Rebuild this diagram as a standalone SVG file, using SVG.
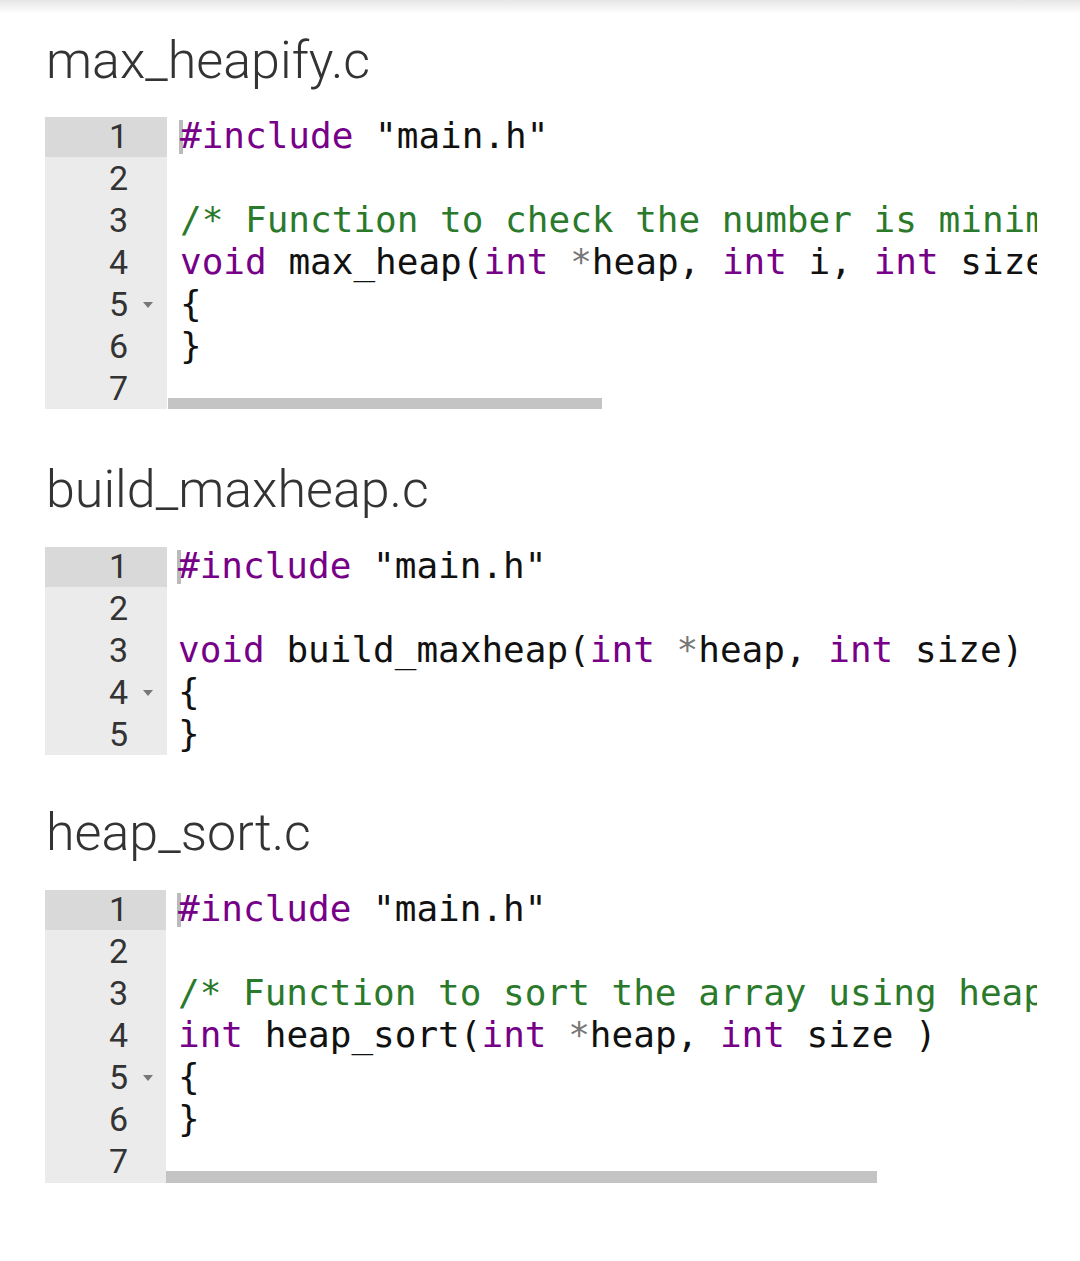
<svg xmlns="http://www.w3.org/2000/svg" width="1080" height="1261" viewBox="0 0 1080 1261">
<defs>
<linearGradient id="sh" x1="0" y1="0" x2="0" y2="1"><stop offset="0" stop-color="#e6e6e6"/><stop offset="1" stop-color="#fff"/></linearGradient>
<clipPath id="c1"><rect x="168" y="117" width="869" height="292"/></clipPath>
<clipPath id="c3"><rect x="166" y="890" width="871" height="293"/></clipPath>
<style>
.t{font-family:Roboto,"Liberation Sans",sans-serif;font-size:52px;font-weight:300;fill:#333}
.g{fill:#ebebeb}.ga{fill:#d9d9d9}
.n{font-family:Roboto,"Liberation Sans",sans-serif;font-size:34px;fill:#333;text-anchor:end}
.c{font-family:"DejaVu Sans Mono",monospace;font-size:36px;fill:#111;white-space:pre}
.k{fill:#770088}.m{fill:#2b7a2b}.o{fill:#777}
.sb{fill:#c4c4c4}.f{fill:#777}
</style>
</defs>
<rect width="1080" height="1261" fill="#fff"/>
<rect width="1080" height="14" fill="url(#sh)"/>

<g id="file1">
<text class="t" x="46" y="78">max_heapify.c</text>
<rect class="g" x="45" y="117" width="122" height="292"/>
<rect class="ga" x="45" y="117" width="122" height="40"/>
<g class="n"><text x="128" y="148">1</text><text x="128" y="190">2</text><text x="128" y="232">3</text><text x="128" y="274">4</text><text x="128" y="316">5</text><text x="128" y="358">6</text><text x="128" y="400">7</text></g>
<path class="f" d="M143 302h10l-5 6z"/>
<rect x="179" y="120" width="4" height="34" fill="#bbb"/>
<g clip-path="url(#c1)" class="c">
<text x="180" y="148"><tspan class="k">#include</tspan> "main.h"</text>
<text x="180" y="232" class="m">/* Function to check the number is minim</text>
<text x="180" y="274"><tspan class="k">void</tspan> max_heap(<tspan class="k">int</tspan> <tspan class="o">*</tspan>heap, <tspan class="k">int</tspan> i, <tspan class="k">int</tspan> size</text>
<text x="180" y="316">{</text>
<text x="180" y="358">}</text>
</g>
<rect class="sb" x="168" y="398" width="434" height="11"/>
</g>

<g id="file2">
<text class="t" x="46" y="507">build_maxheap.c</text>
<rect class="g" x="45" y="547" width="122" height="208"/>
<rect class="ga" x="45" y="547" width="122" height="40"/>
<g class="n"><text x="128" y="578">1</text><text x="128" y="620">2</text><text x="128" y="662">3</text><text x="128" y="704">4</text><text x="128" y="746">5</text></g>
<path class="f" d="M143 690h10l-5 6z"/>
<rect x="177" y="550" width="4" height="34" fill="#bbb"/>
<g class="c">
<text x="178" y="578"><tspan class="k">#include</tspan> "main.h"</text>
<text x="178" y="662"><tspan class="k">void</tspan> build_maxheap(<tspan class="k">int</tspan> <tspan class="o">*</tspan>heap, <tspan class="k">int</tspan> size)</text>
<text x="178" y="704">{</text>
<text x="178" y="746">}</text>
</g>
</g>

<g id="file3">
<text class="t" x="46" y="850">heap_sort.c</text>
<rect class="g" x="45" y="890" width="121" height="293"/>
<rect class="ga" x="45" y="890" width="121" height="40"/>
<g class="n"><text x="128" y="921">1</text><text x="128" y="963">2</text><text x="128" y="1005">3</text><text x="128" y="1047">4</text><text x="128" y="1089">5</text><text x="128" y="1131">6</text><text x="128" y="1173">7</text></g>
<path class="f" d="M143 1075h10l-5 6z"/>
<rect x="177" y="893" width="4" height="34" fill="#bbb"/>
<g clip-path="url(#c3)" class="c">
<text x="178" y="921"><tspan class="k">#include</tspan> "main.h"</text>
<text x="178" y="1005" class="m">/* Function to sort the array using heap</text>
<text x="178" y="1047"><tspan class="k">int</tspan> heap_sort(<tspan class="k">int</tspan> <tspan class="o">*</tspan>heap, <tspan class="k">int</tspan> size )</text>
<text x="178" y="1089">{</text>
<text x="178" y="1131">}</text>
</g>
<rect class="sb" x="166" y="1171" width="711" height="12"/>
</g>
</svg>
